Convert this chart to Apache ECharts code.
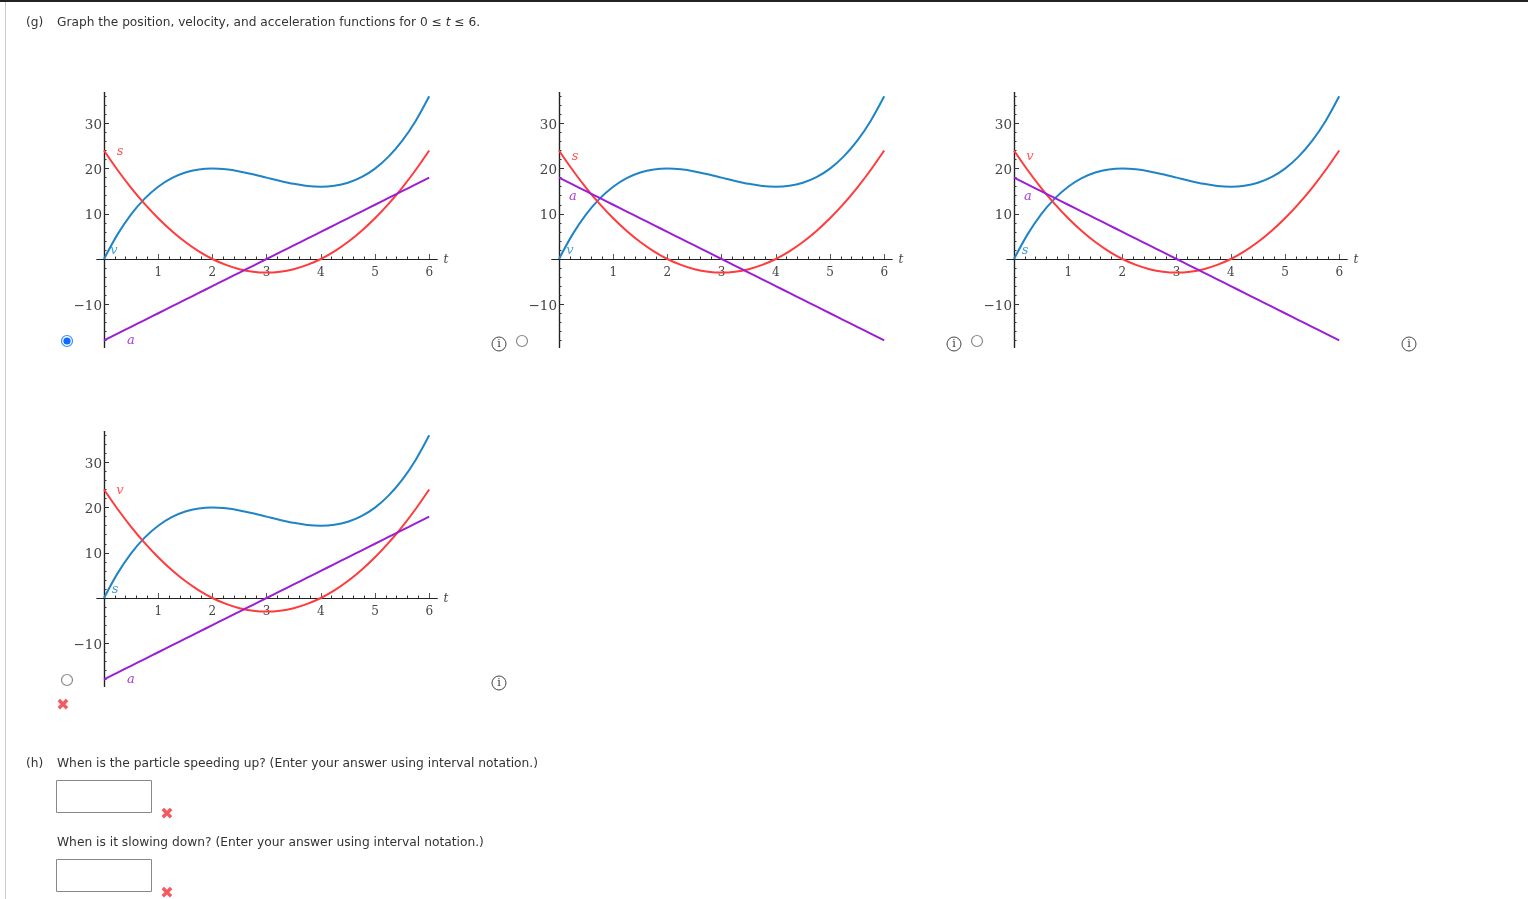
<!DOCTYPE html>
<html>
<head>
<meta charset="utf-8">
<title>Position, velocity, acceleration</title>
<style>
html,body{margin:0;padding:0;background:#fff;overflow:hidden}
#container{width:1528px;height:899px}
</style>
<script src="https://cdn.jsdelivr.net/npm/echarts@6/dist/echarts.min.js"></script>
</head>
<body>
<div id="container"></div>
<script>
// values, every 0.25 on t
var times = [0,0.25,0.5,0.75,1,1.25,1.5,1.75,2,2.25,2.5,2.75,3,3.25,3.5,3.75,4,4.25,4.5,4.75,5,5.25,5.5,5.75,6];
var blueCurve = [0,5.45,9.88,13.36,16,17.89,19.13,19.8,20,19.83,19.38,18.73,18,17.27,16.63,16.17,16,16.2,16.88,18.11,20,22.64,26.13,30.55,36];
var redCurve = [24,19.69,15.75,12.19,9,6.19,3.75,1.69,0,-1.31,-2.25,-2.81,-3,-2.81,-2.25,-1.31,0,1.69,3.75,6.19,9,12.19,15.75,19.69,24];
var purpleRising = [-18,-16.5,-15,-13.5,-12,-10.5,-9,-7.5,-6,-4.5,-3,-1.5,0,1.5,3,4.5,6,7.5,9,10.5,12,13.5,15,16.5,18];
var purpleFalling = [18,16.5,15,13.5,12,10.5,9,7.5,6,4.5,3,1.5,0,-1.5,-3,-4.5,-6,-7.5,-9,-10.5,-12,-13.5,-15,-16.5,-18];

var xMajorTicks = [1,2,3,4,5,6];
var xMinorTicks = [0.2,0.4,0.6,0.8,1.2,1.4,1.6,1.8,2.2,2.4,2.6,2.8,3.2,3.4,3.6,3.8,4.2,4.4,4.6,4.8,5.2,5.4,5.6,5.8];
var yMajorTicks = [-10,10,20,30];
var yMinorTicks = [-18,-16,-14,-12,-8,-6,-4,-2,2,4,6,8,12,14,16,18,22,24,26,28,32,34,36];

var BLUE = '#1f84c6', RED = '#ff3b3b', PURPLE = '#9a1fd6';
var LBLUE = '#4a9fd8', LRED = '#ff5a5a', LPURPLE = '#a83fe0';
var SERIF = '"DejaVu Serif"', SANS = '"DejaVu Sans"';

// origin pixel of each panel + its curve labels
var panels = [
  {x0:104, y0:259, purple:purpleRising, labels:[['s',120,152,LRED],['v',114,251,LBLUE],['a',131,341,LPURPLE]], tx:446},
  {x0:559, y0:259, purple:purpleFalling, labels:[['s',575,157,LRED],['a',573,197,LPURPLE],['v',570,251,LBLUE]], tx:901},
  {x0:1014, y0:259, purple:purpleFalling, labels:[['v',1030,157,LRED],['a',1028,197,LPURPLE],['s',1025,251,LBLUE]], tx:1356},
  {x0:104, y0:598, purple:purpleRising, labels:[['v',120,491,LRED],['s',115,590,LBLUE],['a',131,680,LPURPLE]], tx:446}
];

function pairs(vals){
  var out = [];
  for(var i=0;i<times.length;i++){ out.push([times[i],vals[i]]); }
  return out;
}

var grids=[], xAxes=[], yAxes=[], seriesList=[], gfx=[];

function txt(x,y,s,size,color,extra){
  var st = {text:s, x:x, y:y+1.5, font:(size||12.2)+'px '+SANS, fill:color||'#333', textVerticalAlign:'middle'};
  for(var k in (extra||{})){ st[k]=extra[k]; }
  gfx.push({type:'text', silent:true, style:st});
}
function radio(x,y,on){
  if(on){
    gfx.push({type:'circle', shape:{cx:x,cy:y,r:5.5}, style:{fill:'#fff',stroke:'#3d8bff',lineWidth:1.2}});
    gfx.push({type:'circle', shape:{cx:x,cy:y,r:3.6}, style:{fill:'#0a6cff'}});
  }else{
    gfx.push({type:'circle', shape:{cx:x,cy:y,r:5.5}, style:{fill:'#fff',stroke:'#888',lineWidth:1.2}});
  }
}
function info(x,y){
  gfx.push({type:'circle', shape:{cx:x,cy:y,r:7}, style:{fill:'#fff',stroke:'#444',lineWidth:1}});
  gfx.push({type:'text', silent:true, style:{text:'i', x:x, y:y+0.5, font:'11px '+SERIF, fill:'#333', textAlign:'center', textVerticalAlign:'middle'}});
}
function cross(x,y){
  txt(x,y,'\u2716',16,'#f4595f',{textAlign:'center'});
}
function box(x,y){
  gfx.push({type:'rect', shape:{x:x,y:y,width:95,height:32}, style:{fill:'#fff',stroke:'#888',lineWidth:1}});
}

panels.forEach(function(p,i){
  var pxX = 54.2, pxY = 4.52;
  grids.push({left:p.x0-7, width:340, top:p.y0-166.5, height:255});
  var xMin = -7/pxX, xMax = 333/pxX;
  var yMax = 166.5/pxY, yMin = -88.5/pxY;
  var line = {show:true, onZero:true, lineStyle:{color:'#222',width:1.2}};
  // labels stay at the grid edge with onZero, so margins pull them back to the zero line
  xAxes.push({type:'value', gridIndex:i, min:xMin, max:xMax, splitLine:{show:false}, axisLine:line,
    axisTick:{show:true, inside:true, length:5, customValues:xMajorTicks, lineStyle:{color:'#555',width:1}},
    axisLabel:{show:true, customValues:xMajorTicks, margin:-81, fontFamily:SERIF, fontSize:12, color:'#444'}});
  xAxes.push({type:'value', gridIndex:i, min:xMin, max:xMax, splitLine:{show:false}, axisLine:line, position:'bottom',
    axisTick:{show:true, inside:true, length:2.5, customValues:xMinorTicks, lineStyle:{color:'#333',width:1}},
    axisLabel:{show:false}});
  yAxes.push({type:'value', gridIndex:i, min:yMin, max:yMax, splitLine:{show:false}, axisLine:line,
    axisTick:{show:true, inside:true, length:5, customValues:yMajorTicks, lineStyle:{color:'#333',width:1}},
    axisLabel:{show:true, customValues:yMajorTicks, margin:-5, fontFamily:SERIF, fontSize:13.5, color:'#444',
      rich:{l:{fontFamily:SERIF, fontSize:13.5, color:'#444', padding:[4,0,0,0]}},
      formatter:function(v){ return '{l|'+String(v).replace('-','\u2212')+'}'; }}});
  yAxes.push({type:'value', gridIndex:i, min:yMin, max:yMax, splitLine:{show:false}, axisLine:line, position:'left',
    axisTick:{show:true, inside:true, length:2.5, customValues:yMinorTicks, lineStyle:{color:'#333',width:1}},
    axisLabel:{show:false}});
  [[blueCurve,BLUE],[redCurve,RED],[p.purple,PURPLE]].forEach(function(c){
    seriesList.push({type:'line', xAxisIndex:i*2, yAxisIndex:i*2, data:pairs(c[0]), smooth:0.33, showSymbol:false,
      clip:false, lineStyle:{color:c[1],width:2}, itemStyle:{color:c[1]}, silent:true});
  });
  p.labels.forEach(function(l){
    txt(l[1],l[2]-1.5,l[0],13,l[3],{font:'italic 13px '+SERIF,textAlign:'center'});
  });
  txt(p.tx,p.y0-1,'t',12,'#444',{font:'italic 12px '+SERIF,textAlign:'center'});
});

// page furniture around the plots
gfx.push({type:'rect', shape:{x:0,y:0,width:1528,height:2}, style:{fill:'#222'}});
gfx.push({type:'rect', shape:{x:5,y:2,width:1,height:897}, style:{fill:'#ccc'}});
txt(26,21,'(g)',12.2,'#333');
gfx.push({type:'text', silent:true, style:{x:57,y:22.5,textVerticalAlign:'middle',
  text:'{n|Graph the position, velocity, and acceleration functions for 0 \u2264 }{i|t}{n| \u2264 6.}',
  rich:{n:{fontFamily:SANS,fontSize:12.2,fill:'#333',color:'#333'},i:{fontFamily:SANS,fontStyle:'italic',fontSize:12.2,fill:'#333',color:'#333'}}}});
radio(67,341,true); radio(522,341,false); radio(977,341,false); radio(67,680,false);
info(499,344); info(954,344); info(1409,344); info(499,683);
cross(63,704);
txt(26,762,'(h)',12.2,'#333');
txt(57,762,'When is the particle speeding up? (Enter your answer using interval notation.)',12.25,'#333');
box(56.5,780.5); cross(167,813);
txt(57,841,'When is it slowing down? (Enter your answer using interval notation.)',12.25,'#333');
box(56.5,859.5); cross(167,892);

var myChart = echarts.init(document.getElementById('container'));
var option = {
  animation:false,
  backgroundColor:'#fff',
  grid:grids, xAxis:xAxes, yAxis:yAxes, series:seriesList,
  graphic:{elements:gfx}
};
myChart.setOption(option, true);
</script>
</body>
</html>
